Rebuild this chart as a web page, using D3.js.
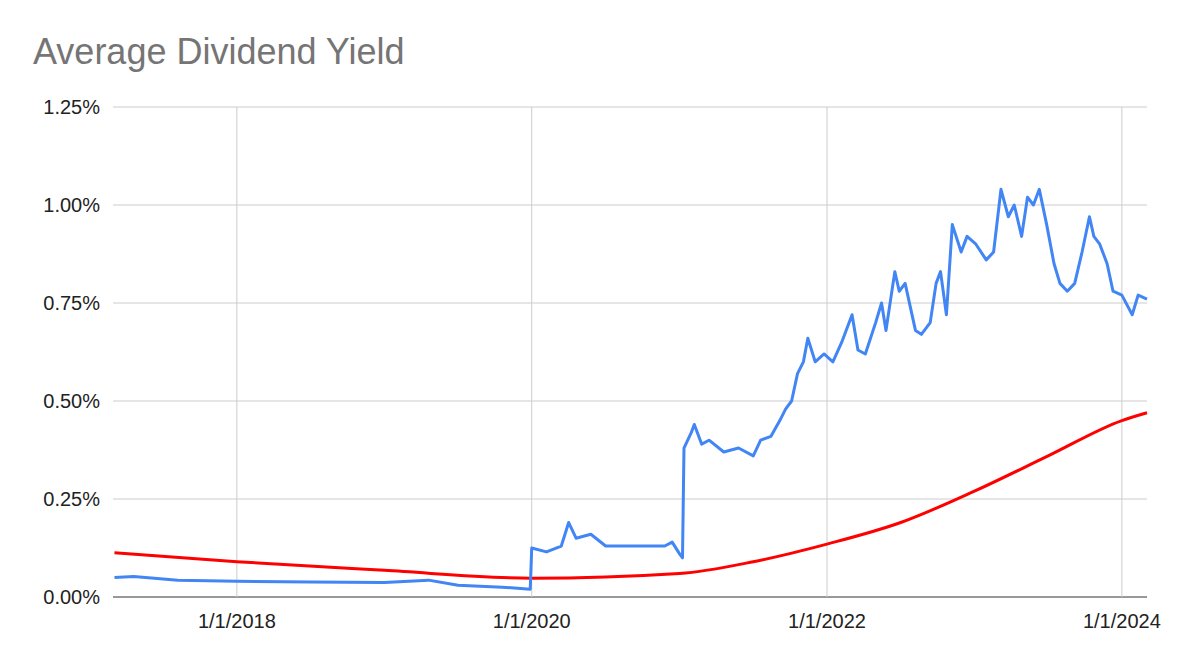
<!DOCTYPE html>
<html>
<head>
<meta charset="utf-8">
<title>Average Dividend Yield</title>
<style>
body { margin: 0; background: #fff; }
text { font-family: Arial, "Liberation Sans", sans-serif; }
</style>
</head>
<body>
<div id="graphic"></div>
<script src="https://d3js.org/d3.v7.min.js"></script>
<script>
// [decimal year, dividend yield %]
var bluePoints = [
  [2017.17,0.050],[2017.3,0.052],[2017.6,0.043],[2018.0,0.040],[2018.5,0.038],
  [2019.0,0.037],[2019.3,0.043],[2019.5,0.030],[2019.8,0.025],[2019.99,0.020],
  [2020.0,0.125],[2020.1,0.115],[2020.2,0.13],[2020.25,0.19],[2020.3,0.15],
  [2020.4,0.16],[2020.5,0.13],[2020.7,0.13],[2020.9,0.13],[2020.95,0.14],
  [2021.0,0.11],[2021.02,0.10],[2021.03,0.38],[2021.08,0.42],[2021.1,0.44],
  [2021.15,0.39],[2021.2,0.40],[2021.3,0.37],[2021.4,0.38],[2021.5,0.36],
  [2021.55,0.40],[2021.62,0.41],[2021.68,0.45],[2021.72,0.48],[2021.76,0.50],
  [2021.8,0.57],[2021.84,0.60],[2021.87,0.66],[2021.92,0.60],[2021.98,0.62],
  [2022.04,0.60],[2022.1,0.65],[2022.17,0.72],[2022.21,0.63],[2022.26,0.62],
  [2022.33,0.70],[2022.37,0.75],[2022.4,0.68],[2022.46,0.83],[2022.49,0.78],
  [2022.53,0.80],[2022.6,0.68],[2022.64,0.67],[2022.7,0.70],[2022.74,0.80],
  [2022.77,0.83],[2022.81,0.72],[2022.85,0.95],[2022.91,0.88],[2022.95,0.92],
  [2023.01,0.90],[2023.08,0.86],[2023.13,0.88],[2023.18,1.04],[2023.23,0.97],
  [2023.27,1.00],[2023.32,0.92],[2023.36,1.02],[2023.4,1.00],[2023.44,1.04],
  [2023.49,0.95],[2023.54,0.85],[2023.58,0.80],[2023.63,0.78],[2023.68,0.80],
  [2023.73,0.88],[2023.78,0.97],[2023.81,0.92],[2023.85,0.90],[2023.9,0.85],
  [2023.94,0.78],[2024.0,0.77],[2024.07,0.72],[2024.11,0.77],[2024.17,0.76]
];
var redPoints = [[2017.17,0.113],[2018.0,0.090],[2019.0,0.068],[2020.0,0.048],[2021.0,0.060],
  [2021.5,0.090],[2022.0,0.135],[2022.5,0.19],[2023.0,0.27],[2023.5,0.36],[2024.0,0.45],[2024.17,0.47]];
var yTicks = [0, 0.25, 0.5, 0.75, 1.0, 1.25];
var xTickYears = [2018, 2020, 2022, 2024];

function yearToDate(y) {
  var yr = Math.floor(y);
  var s = new Date(yr, 0, 1), e = new Date(yr + 1, 0, 1);
  return new Date(+s + (y - yr) * (e - s));
}

var w = 1180, h = 665;
var m = {left: 113, right: 33, top: 107, bottom: 68};
var svg = d3.select("#graphic").append("svg").attr("width", w).attr("height", h);

var x = d3.scaleTime()
  .domain([yearToDate(2017.16), yearToDate(2024.17)])
  .range([m.left, w - m.right]);
var y = d3.scaleLinear().domain([0, 1.25]).range([h - m.bottom, m.top]);

svg.append("text").attr("x", 33).attr("y", 64)
  .attr("font-size", 36).attr("fill", "#757575").text("Average Dividend Yield");

svg.append("g").selectAll("line").data(yTicks).enter().append("line")
  .attr("x1", m.left).attr("x2", w - m.right)
  .attr("y1", function(d) { return y(d); }).attr("y2", function(d) { return y(d); })
  .attr("stroke", function(d) { return d === 0 ? "#333" : "#cccccc"; });

svg.append("g").selectAll("line").data(xTickYears).enter().append("line")
  .attr("x1", function(d) { return x(yearToDate(d)); }).attr("x2", function(d) { return x(yearToDate(d)); })
  .attr("y1", m.top).attr("y2", h - m.bottom)
  .attr("stroke", "#cccccc");

svg.append("g").selectAll("text").data(yTicks).enter().append("text")
  .attr("x", 100).attr("y", function(d) { return y(d) + 7; })
  .attr("text-anchor", "end").attr("font-size", 20).attr("fill", "#222")
  .text(function(d) { return d.toFixed(2) + "%"; });

svg.append("g").selectAll("text").data(xTickYears).enter().append("text")
  .attr("x", function(d) { return x(yearToDate(d)); }).attr("y", 628)
  .attr("text-anchor", "middle").attr("font-size", 20).attr("fill", "#222")
  .text(function(d) { return "1/1/" + d; });

var line = d3.line().x(function(d) { return x(yearToDate(d[0])); }).y(function(d) { return y(d[1]); });

svg.append("path").datum(redPoints).attr("d", line.curve(d3.curveMonotoneX)(redPoints))
  .attr("fill", "none").attr("stroke", "#ff0000").attr("stroke-width", 3);

svg.append("path").datum(bluePoints).attr("d", line.curve(d3.curveLinear)(bluePoints))
  .attr("fill", "none").attr("stroke", "#4285f4").attr("stroke-width", 3)
  .attr("stroke-linejoin", "round");
</script>
</body>
</html>
